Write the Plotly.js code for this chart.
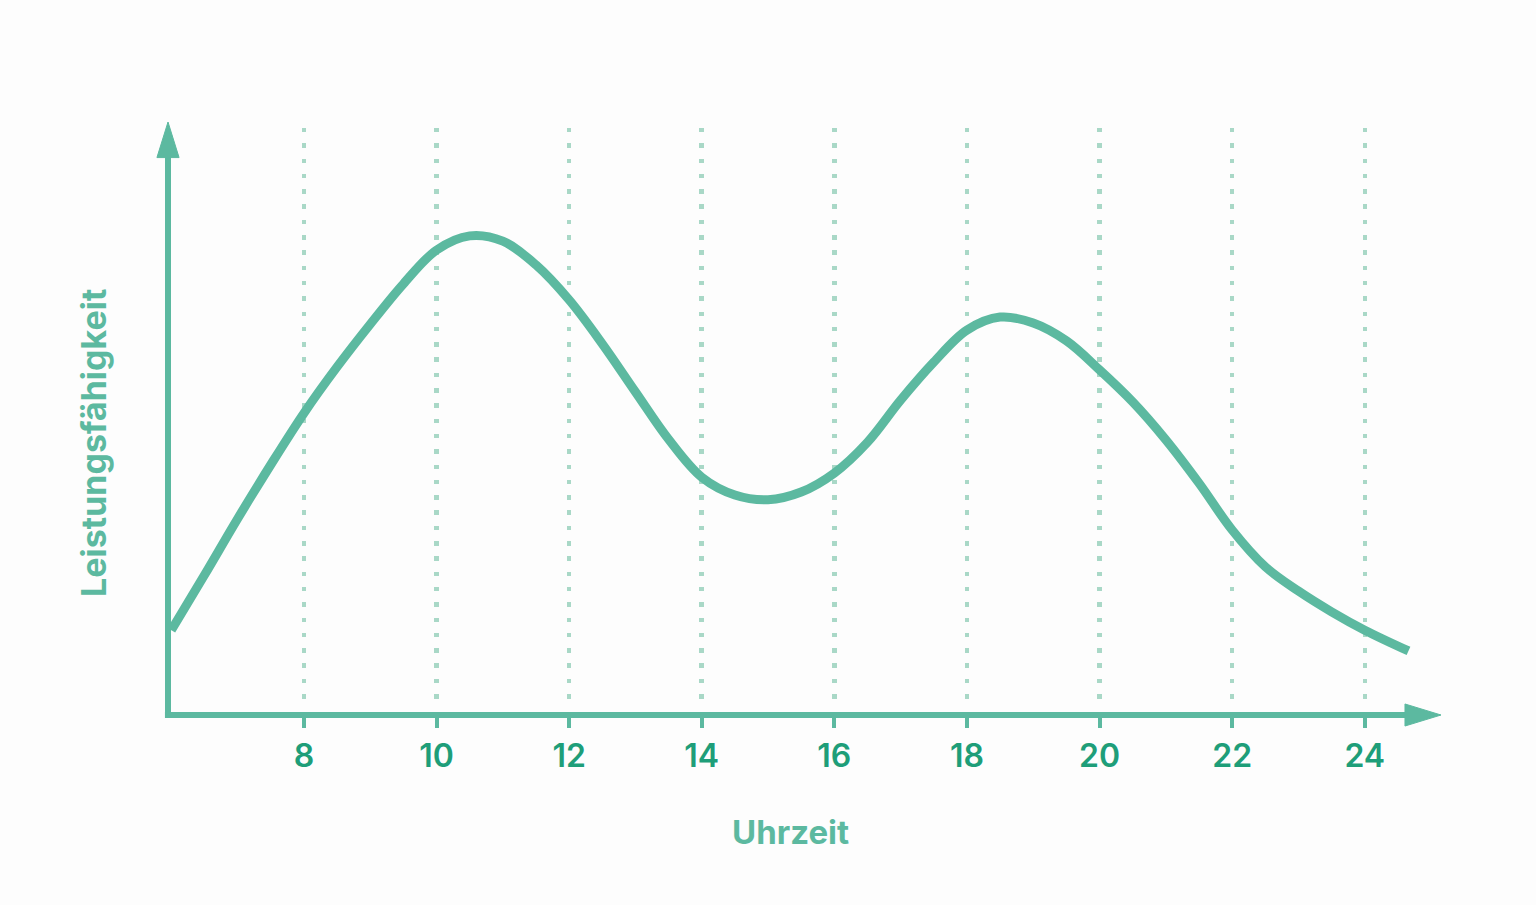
<!DOCTYPE html>
<html>
<head>
<meta charset="utf-8">
<script src="https://cdn.plot.ly/plotly-3.0.1.min.js"></script>
<style>
html,body{margin:0;padding:0;background:#fdfdfd;}
#chart{width:1536px;height:905px;}
</style>
</head>
<body>
<div id="chart"></div>
<script>
// Data (hours of day vs. relative performance)
const hours = [6.0, 6.5, 7.0, 7.5, 8.0, 8.5, 9.0, 9.5, 10.0, 10.5, 11.0, 11.5, 12.0, 12.5, 13.0, 13.5, 14.0, 14.5, 15.0, 15.5, 16.0, 16.5, 17.0, 17.5, 18.0, 18.5, 19.0, 19.5, 20.0, 20.5, 21.0, 21.5, 22.0, 22.5, 23.0, 23.5, 24.0, 24.66];
const performance = [14.3, 23.6, 33.1, 42.2, 50.9, 58.7, 65.9, 72.7, 78.4, 80.8, 79.9, 75.9, 70.0, 62.6, 54.5, 46.5, 40.1, 37.1, 36.3, 37.6, 40.8, 46.0, 53.1, 59.5, 64.9, 67.1, 66.1, 63.1, 58.2, 52.8, 46.4, 39.1, 31.2, 25.0, 20.9, 17.4, 14.3, 10.8];
const tickValues = [8, 10, 12, 14, 16, 18, 20, 22, 24];
const tickLabels = ["8", "10", "12", "14", "16", "18", "20", "22", "24"];
const xTitle = "Uhrzeit";
const yTitle = "Leistungsfähigkeit";

const lineColor = "#5cb9a0";
const labelColor = "#1e9e79";
const gridColor = "#a9d8c7";
const fontFamily = "Inter, 'Open Sans', sans-serif";

const trace = {
  x: hours,
  y: performance,
  type: "scatter",
  mode: "lines",
  line: {color: lineColor, width: 9, shape: "spline", smoothing: 1.0},
  hoverinfo: "skip"
};

const layout = {
  width: 1536,
  height: 905,
  margin: {l: 168, r: 95, t: 122, b: 190},
  paper_bgcolor: "#fdfdfd",
  plot_bgcolor: "#fdfdfd",
  showlegend: false,
  xaxis: {
    range: [5.95, 25.15],
    anchor: "free",
    position: 0,
    tickmode: "array",
    tickvals: tickValues,
    ticktext: tickLabels,
    ticks: "outside",
    ticklen: 12,
    tickwidth: 4,
    tickcolor: lineColor,
    ticklabelstandoff: 1,
    tickfont: {family: fontFamily, size: 32, color: labelColor, weight: 600},
    showgrid: true,
    gridcolor: gridColor,
    gridwidth: 4.5,
    griddash: "4.5px,10.8px",
    zeroline: false,
    showline: false,
    fixedrange: true
  },
  yaxis: {
    range: [2.53, 98.99],
    domain: [0.0253, 0.9899],
    showgrid: false,
    zeroline: false,
    showline: false,
    showticklabels: false,
    ticks: "",
    fixedrange: true
  },
  shapes: [
    {type: "line", xref: "paper", yref: "paper", x0: 0, x1: 0, y0: -0.005, y1: 0.945, line: {color: lineColor, width: 6}},
    {type: "path", xref: "paper", yref: "paper", path: "M -0.0087 0.94 L 0.0087 0.94 L 0 1.0 Z", fillcolor: lineColor, line: {color: lineColor, width: 1}},
    {type: "line", xref: "paper", yref: "paper", x0: -0.0024, x1: 0.975, y0: 0, y1: 0, line: {color: lineColor, width: 6}},
    {type: "path", xref: "paper", yref: "paper", path: "M 0.9717 -0.0186 L 0.9717 0.0186 L 1.0 0 Z", fillcolor: lineColor, line: {color: lineColor, width: 1}}
  ],
  annotations: [
    {text: xTitle, xref: "paper", yref: "paper", x: 0.489, y: -0.197, showarrow: false,
     xanchor: "center", yanchor: "middle",
     font: {family: fontFamily, size: 33, color: lineColor, weight: 700}},
    {text: yTitle, xref: "paper", yref: "paper", x: -0.058, y: 0.459, showarrow: false,
     xanchor: "center", yanchor: "middle", textangle: -90,
     font: {family: fontFamily, size: 34, color: lineColor, weight: 700}}
  ]
};

Plotly.newPlot("chart", [trace], layout, {displayModeBar: false, staticPlot: true});
</script>
</body>
</html>
